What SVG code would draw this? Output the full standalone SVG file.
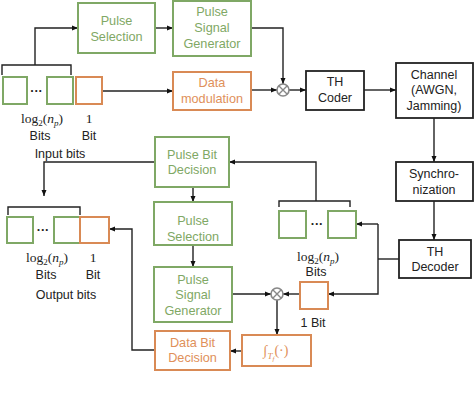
<svg xmlns="http://www.w3.org/2000/svg" width="474" height="404" viewBox="0 0 474 404">
<defs>
<marker id="ah" viewBox="0 0 6 6" refX="6" refY="3" markerWidth="6" markerHeight="6" orient="auto" markerUnits="userSpaceOnUse"><path d="M0,0.5 L6,3 L0,5.5 z" fill="#111"/></marker>
<style>
.g{fill:#fff;stroke:#7fa865;stroke-width:2}
.o{fill:#fff;stroke:#d98a55;stroke-width:2}
.k{fill:#fff;stroke:#222;stroke-width:1.8}
.tg{font-family:"Liberation Sans",Arial,sans-serif;font-size:12.7px;fill:#7fa865;text-anchor:middle}
.to{font-family:"Liberation Sans",Arial,sans-serif;font-size:12.7px;fill:#e0905a;text-anchor:middle}
.tk{font-family:"Liberation Sans",Arial,sans-serif;font-size:12.5px;fill:#222;text-anchor:middle}
.m{font-family:"Liberation Serif","Times New Roman",serif;font-size:13.5px;fill:#222;text-anchor:middle}
.c{fill:none;stroke:#222;stroke-width:1.4}
.a{fill:none;stroke:#222;stroke-width:1.4;marker-end:url(#ah)}
.x{fill:#fff;stroke:#888;stroke-width:1.6}
</style>
</defs>
<rect width="474" height="404" fill="#fff"/>

<g id="connectors">
<path class="c" d="M2,75 V65 H71 V75"/>
<path class="a" d="M35,65 V28 H78"/>
<path class="a" d="M155,28 H173"/>
<path class="a" d="M102,91 H173"/>
<path class="a" d="M251,28 H283 V84"/>
<path class="a" d="M251,90 H277"/>
<path class="a" d="M289,90 H306"/>
<path class="a" d="M364,90 H396"/>
<path class="a" d="M434,118 V162"/>
<path class="a" d="M434,201 V240"/>
<path class="c" d="M399,259 H378"/>
<path class="a" d="M378,224 V294 H328"/>
<path class="a" d="M378,224 H356"/>
<path class="c" d="M279,207 V201 H350 V207"/>
<path class="a" d="M316,201 V162 H229"/>
<path class="a" d="M155,162 H44 V196"/>
<path class="c" d="M8,215 V207 H80 V215"/>
<path class="a" d="M193,187 V202"/>
<path class="a" d="M193,245 V267"/>
<path class="a" d="M300,294 H283"/>
<path class="a" d="M232,294 H271"/>
<path class="a" d="M277,300 V335"/>
<path class="a" d="M242,351 H230"/>
<path class="a" d="M155,350 H132 V229 H109"/>
</g>

<g id="pulse-selection-tx"><rect class="g" x="78" y="3" width="77" height="50"/><text class="tg" x="116.5" y="25">Pulse</text><text class="tg" x="116.5" y="41">Selection</text></g>
<g id="psg-tx"><rect class="g" x="173" y="1" width="78" height="55"/><text class="tg" x="212" y="16">Pulse</text><text class="tg" x="212" y="32">Signal</text><text class="tg" x="212" y="48">Generator</text></g>
<g id="data-modulation"><rect class="o" x="173" y="72" width="78" height="38"/><text class="to" x="212" y="87">Data</text><text class="to" x="212" y="103">modulation</text></g>
<g id="mult-tx"><circle class="x" cx="283" cy="90" r="6"/><path d="M279,86 L287,94 M287,86 L279,94" stroke="#888" stroke-width="1.4"/></g>
<g id="th-coder"><rect class="k" x="306" y="71" width="58" height="39"/><text class="tk" x="335" y="86">TH</text><text class="tk" x="335" y="102">Coder</text></g>
<g id="channel"><rect class="k" x="396" y="63" width="77" height="55" stroke-width="2.2"/><text class="tk" x="434" y="79">Channel</text><text class="tk" x="434" y="94">(AWGN,</text><text class="tk" x="434" y="110">Jamming)</text></g>
<g id="sync"><rect class="k" x="396" y="162" width="77" height="39"/><text class="tk" x="434" y="178">Synchro-</text><text class="tk" x="434" y="194">nization</text></g>
<g id="th-decoder"><rect class="k" x="399" y="240" width="72" height="38"/><text class="tk" x="435" y="256">TH</text><text class="tk" x="435" y="271">Decoder</text></g>

<g id="input-bits">
<rect class="g" x="3" y="77" width="24" height="27"/>
<text class="tk" x="36.5" y="95" font-weight="bold">···</text>
<rect class="g" x="47" y="77" width="26" height="27"/>
<rect class="o" x="76" y="77" width="26" height="27"/>
<text class="m" x="42" y="123">log<tspan font-size="9" dy="3">2</tspan><tspan dy="-3">(</tspan><tspan font-style="italic">n</tspan><tspan font-style="italic" font-size="9" dy="3">p</tspan><tspan dy="-3">)</tspan></text>
<text class="m" x="89" y="123">1</text>
<text class="tk" x="40" y="140">Bits</text>
<text class="tk" x="89" y="140">Bit</text>
<text class="tk" x="60" y="158">Input bits</text>
</g>

<g id="pulse-bit-decision"><rect class="g" x="155" y="137" width="74" height="50"/><text class="tg" x="192" y="159">Pulse Bit</text><text class="tg" x="192" y="174">Decision</text></g>
<g id="pulse-selection-rx"><rect class="g" x="154" y="202" width="78" height="43"/><text class="tg" x="193" y="225">Pulse</text><text class="tg" x="193" y="241">Selection</text></g>
<g id="psg-rx"><rect class="g" x="154" y="267" width="78" height="55"/><text class="tg" x="193" y="284">Pulse</text><text class="tg" x="193" y="299">Signal</text><text class="tg" x="193" y="315">Generator</text></g>
<g id="data-bit-decision"><rect class="o" x="155" y="331" width="75" height="39"/><text class="to" x="192.5" y="347">Data Bit</text><text class="to" x="192.5" y="362">Decision</text></g>

<g id="rx-bits">
<rect class="g" x="279" y="211" width="27" height="27"/>
<text class="tk" x="317" y="228" font-weight="bold">···</text>
<rect class="g" x="328" y="211" width="28" height="27"/>
<text class="m" x="318" y="261">log<tspan font-size="9" dy="3">2</tspan><tspan dy="-3">(</tspan><tspan font-style="italic">n</tspan><tspan font-style="italic" font-size="9" dy="3">p</tspan><tspan dy="-3">)</tspan></text>
<text class="tk" x="316" y="276">Bits</text>
</g>
<g id="one-bit-rx"><rect class="o" x="300" y="282" width="28" height="27"/><text class="tk" x="313" y="327">1 Bit</text></g>
<g id="mult-rx"><circle class="x" cx="277" cy="294" r="6"/><path d="M273,290 L281,298 M281,290 L273,298" stroke="#888" stroke-width="1.4"/></g>
<g id="integrator"><rect class="o" x="242" y="335" width="69" height="31"/><text class="m" x="276" y="355" style="fill:#e0905a;font-size:14px"><tspan font-style="italic">∫</tspan><tspan font-size="9" font-style="italic" dy="4">T</tspan><tspan font-size="7" font-style="italic" dy="2">f</tspan><tspan dy="-6">(·)</tspan></text></g>

<g id="output-bits">
<rect class="g" x="7" y="217" width="26" height="26"/>
<text class="tk" x="43" y="234" font-weight="bold">···</text>
<rect class="g" x="54" y="217" width="26" height="26"/>
<rect class="o" x="80" y="217" width="29" height="26"/>
<text class="m" x="47" y="262">log<tspan font-size="9" dy="3">2</tspan><tspan dy="-3">(</tspan><tspan font-style="italic">n</tspan><tspan font-style="italic" font-size="9" dy="3">p</tspan><tspan dy="-3">)</tspan></text>
<text class="m" x="93" y="262">1</text>
<text class="tk" x="46" y="279">Bits</text>
<text class="tk" x="93" y="279">Bit</text>
<text class="tk" x="66" y="299">Output bits</text>
</g>
</svg>
